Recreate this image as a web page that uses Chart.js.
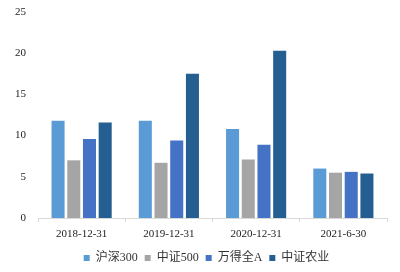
<!DOCTYPE html>
<html>
<head>
<meta charset="utf-8">
<script src="https://cdn.jsdelivr.net/npm/chart.js@4"></script>
<style>
    html, body { margin: 0; padding: 0; background: #fff; }
    #chart { display: block; }
</style>
</head>
<body>
<canvas id="chart" width="400" height="272"></canvas>
<script>
const dates = ['2018-12-31', '2019-12-31', '2020-12-31', '2021-6-30'];
const seriesNames = ['沪深300', '中证500', '万得全A', '中证农业'];
const hs300 = [11.8, 11.8, 10.8, 6.0];
const zz500 = [7.0, 6.7, 7.1, 5.5];
const wind = [9.6, 9.4, 8.9, 5.6];
const agri = [11.6, 17.5, 20.3, 5.4];
const colors = ['#5b9bd5', '#a5a5a5', '#4472c4', '#255e91'];

const font = "'Liberation Serif', 'Noto Sans CJK SC', serif";

// nudge the legend a bit right and down, like the original
const legendShift = {
    id: 'legendShift',
    afterLayout(chart) {
        const lg = chart.legend;
        lg.left += 13;
        lg.right += 13;
        lg.top += 2;
        lg.bottom += 2;
    }
};

new Chart(document.getElementById('chart'), {
    type: 'bar',
    data: {
        labels: dates,
        datasets: [hs300, zz500, wind, agri].map((values, i) => ({
            label: seriesNames[i],
            data: values,
            backgroundColor: colors[i],
            categoryPercentage: 0.72,
            barPercentage: 0.83
        }))
    },
    options: {
        responsive: false,
        animation: false,
        layout: {
            padding: {top: 12, right: 13, left: 0, bottom: 0}
        },
        plugins: {
            legend: {
                position: 'bottom',
                labels: {
                    boxWidth: 6,
                    boxHeight: 6,
                    padding: 7,
                    color: '#333',
                    font: {family: font, size: 12}
                }
            },
            tooltip: {enabled: false}
        },
        scales: {
            x: {
                grid: {
                    display: true,
                    offset: true,
                    drawOnChartArea: false,
                    drawTicks: true,
                    tickLength: 4,
                    color: '#d9d9d9'
                },
                border: {color: '#d9d9d9'},
                ticks: {
                    color: '#222',
                    padding: 6,
                    font: {family: font, size: 11}
                },
                afterFit: (scale) => {
                    scale.height = 25;
                }
            },
            y: {
                min: 0,
                max: 25,
                grid: {display: false},
                border: {display: false},
                ticks: {
                    stepSize: 5,
                    color: '#222',
                    padding: 4,
                    font: {family: font, size: 11}
                },
                afterFit: (scale) => {
                    scale.width = 38;
                }
            }
        }
    },
    plugins: [legendShift]
});
</script>
</body>
</html>
